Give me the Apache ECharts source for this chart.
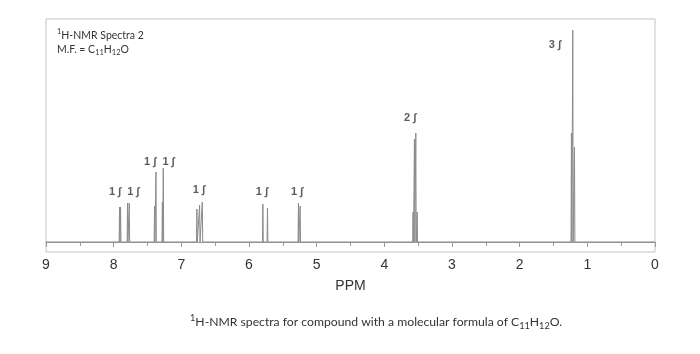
<!DOCTYPE html>
<html>
<head>
<meta charset="utf-8">
<script src="https://cdn.jsdelivr.net/npm/echarts@6/dist/echarts.min.js"></script>
<style>
	html, body { margin: 0; padding: 0; background: #fff; }
	#chart { width: 700px; height: 354px; }
</style>
</head>
<body>
<div id="chart"></div>
<script>
// peak lines: chemical shift (ppm) and height
var peakPpm = [7.913, 7.898, 7.795, 7.77, 7.396, 7.375, 7.28, 7.267, 6.77, 6.73, 6.69,
	5.795, 5.727, 5.269, 5.244, 3.575, 3.555, 3.535, 3.515, 1.235, 1.215, 1.19];
var peakHeight = [35, 35, 39, 39, 36, 70, 40, 74, 33, 37, 40,
	38, 34, 39, 36, 30, 103, 109, 30, 109, 212, 95];

// integration labels
var labelPpm = [7.98, 7.71, 7.46, 7.19, 6.74, 5.81, 5.29, 3.62, 1.48];
var labelHeight = [50, 50, 80, 80, 52, 50, 50, 124, 197];
var labelText = ['1 ∫', '1 ∫', '1 ∫', '1 ∫', '1 ∫', '1 ∫', '1 ∫', '2 ∫', '3 ∫'];

var axisTicks = [9, 8, 7, 6, 5, 4, 3, 2, 1, 0];

/**
 * spectrum path: baseline with a stick per peak line
 */
var buildSpectrum = function () {
	var pts = [[9, 0]];
	var w = 0.006;
	for (var i = 0; i < peakPpm.length; i++) {
		pts.push([peakPpm[i] + w, 0]);
		pts.push([peakPpm[i], peakHeight[i]]);
		pts.push([peakPpm[i] - w, 0]);
	}
	pts.push([0, 0]);
	return pts;
};

var labelData = [];
for (var i = 0; i < labelPpm.length; i++) {
	labelData.push({ value: [labelPpm[i], labelHeight[i]], name: labelText[i] });
}

// rich styles for super/subscripts
var richText = function (size) {
	return {
		n: { fontFamily: 'Lato', fontSize: size, lineHeight: size + 4, fill: '#333', verticalAlign: 'middle' },
		sub: { fontFamily: 'Lato', fontSize: size - 3, lineHeight: size - 3, fill: '#333', verticalAlign: 'bottom' },
		sup: { fontFamily: 'Lato', fontSize: size - 3, lineHeight: size - 3, fill: '#333', verticalAlign: 'top' }
	};
};

var chart = echarts.init(document.getElementById('chart'));
chart.setOption({
	animation: false,
	grid: {
		left: 46,
		right: 45,
		top: 19,
		bottom: 102,
		show: true,
		borderColor: '#c4c4c4',
		borderWidth: 1
	},
	xAxis: {
		type: 'value',
		inverse: true,
		min: 0,
		max: 9,
		interval: 1,
		name: 'PPM',
		nameLocation: 'middle',
		nameGap: 27,
		nameTextStyle: { fontFamily: 'Liberation Sans', fontSize: 14, color: '#333' },
		axisLine: { lineStyle: { color: '#999', width: 1 } },
		axisTick: { inside: false, length: 5, lineStyle: { color: '#999' } },
		minorTick: { show: true, splitNumber: 2, length: 4, lineStyle: { color: '#999' } },
		splitLine: { show: false },
		axisLabel: {
			margin: 6,
			fontFamily: 'Liberation Sans',
			fontSize: 14,
			color: '#333',
			formatter: function (v) {
				return axisTicks.indexOf(v) >= 0 ? String(v) : '';
			}
		}
	},
	yAxis: {
		type: 'value',
		min: -10,
		max: 223,
		show: false,
		splitLine: { show: false }
	},
	series: [
		{
			type: 'line',
			data: buildSpectrum(),
			symbol: 'none',
			lineStyle: { color: '#8a8a8a', width: 1 },
			silent: true
		},
		{
			type: 'scatter',
			data: labelData,
			symbolSize: 0,
			label: {
				show: true,
				position: 'inside',
				formatter: '{b}',
				fontFamily: 'Liberation Sans',
				fontSize: 11,
				fontWeight: 'bold',
				color: '#333'
			}
		}
	],
	graphic: [
		{
			type: 'text',
			left: 57,
			top: 28,
			style: {
				text: '{sup|1}{n|H-NMR Spectra 2}\n{n|M.F. = C}{sub|11}{n|H}{sub|12}{n|O}',
				rich: richText(10.5),
				fill: '#333'
			}
		},
		{
			type: 'text',
			left: 190,
			top: 314,
			style: {
				text: '{sup|1}{n|H-NMR spectra for compound with a molecular formula of C}{sub|11}{n|H}{sub|12}{n|O.}',
				rich: richText(12.2),
				fill: '#333'
			}
		}
	]
});
</script>
</body>
</html>
